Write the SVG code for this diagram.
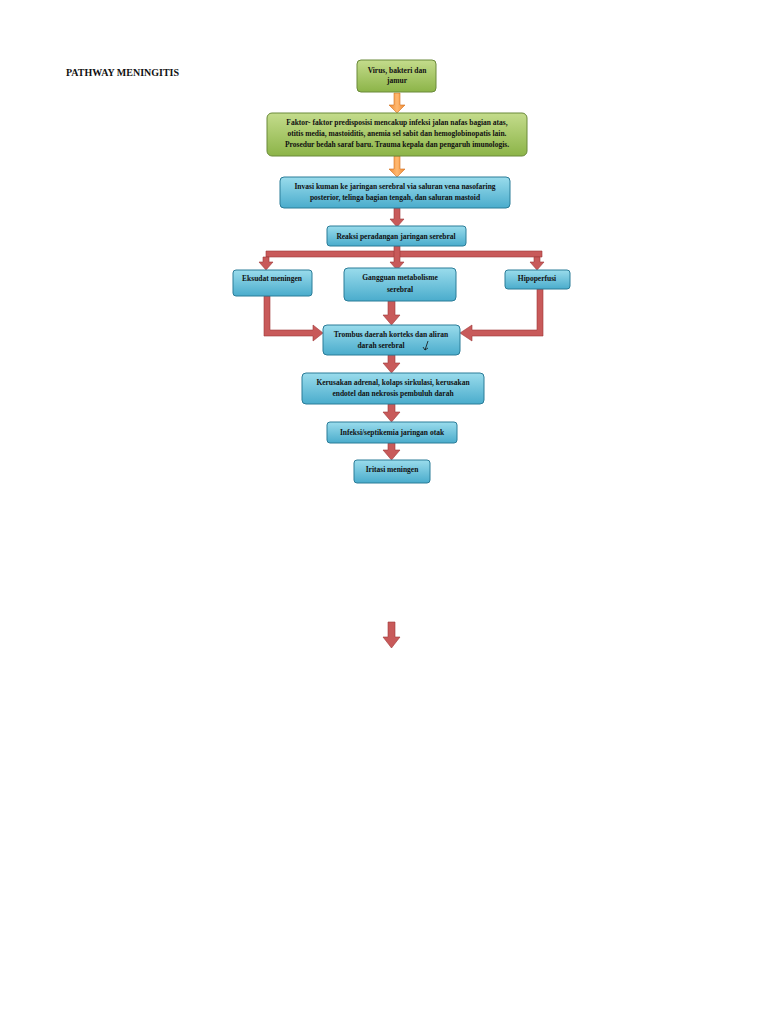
<svg xmlns="http://www.w3.org/2000/svg" width="768" height="1024" viewBox="0 0 768 1024">
<defs>
<linearGradient id="gg" x1="0" y1="0" x2="0" y2="1"><stop offset="0" stop-color="#c4dc8c"/><stop offset="1" stop-color="#8cb448"/></linearGradient>
<linearGradient id="bg" x1="0" y1="0" x2="0" y2="1"><stop offset="0" stop-color="#9adcec"/><stop offset="1" stop-color="#4aaccc"/></linearGradient>
<linearGradient id="rg" x1="0" y1="0" x2="1" y2="0"><stop offset="0" stop-color="#b84040"/><stop offset="0.5" stop-color="#e07070"/><stop offset="1" stop-color="#b84040"/></linearGradient>
<linearGradient id="og" x1="0" y1="0" x2="1" y2="0"><stop offset="0" stop-color="#f08a30"/><stop offset="0.5" stop-color="#ffb870"/><stop offset="1" stop-color="#f08a30"/></linearGradient>
</defs>
<style>
.g{fill:url(#gg);stroke:#6a8a3a;stroke-width:1}
.b{fill:url(#bg);stroke:#2a7c98;stroke-width:1}
.t{font-family:"Liberation Serif",serif;font-size:7.5px;font-weight:bold;fill:#111;text-anchor:middle}
.r{fill:url(#rg);stroke:#a03838;stroke-width:0.6}
.rs{fill:#c85a5a;stroke:#a03838;stroke-width:0.6}
.o{fill:url(#og);stroke:#d07020;stroke-width:0.6}
</style>
<text x="66" y="76" font-family="Liberation Serif,serif" font-size="10" font-weight="bold" fill="#111">PATHWAY MENINGITIS</text>
<g id="connectors">
<path class="o" d="M394,93 h6 v12 h5 l-8,8 l-8,-8 h5z"/>
<path class="o" d="M394,156 h6 v13 h5 l-8,8 l-8,-8 h5z"/>
<path class="rs" d="M394,208 h6 v11 h4 l-7,8 l-7,-8 h4z"/>
<path class="rs" d="M266,251 h276 v6 h-276z"/>
<path class="rs" d="M394,246 h6 v16 h4 l-7,8 l-7,-8 h4z"/>
<path class="rs" d="M263,257 h6 v5 h4 l-7,8 l-7,-8 h4z"/>
<path class="rs" d="M534,257 h6 v5 h4 l-7,8 l-7,-8 h4z"/>
<path class="rs" d="M264,296 h6 v34 h43 v-5 l10,8 l-10,8 v-5 h-49z"/>
<path class="rs" d="M537,289 h6 v47 h-71 v5 l-12,-8 l12,-8 v5 h65z"/>
<path class="rs" d="M388,301 h7 v14 h5 l-8.5,10 l-8.5,-10 h5z"/>
<path class="rs" d="M388,355 h7 v8 h5 l-8.5,10 l-8.5,-10 h5z"/>
<path class="rs" d="M388,404 h7 v8 h5 l-8.5,10 l-8.5,-10 h5z"/>
<path class="rs" d="M388,443 h7 v7 h5 l-8.5,10 l-8.5,-10 h5z"/>
<path class="rs" d="M388,622 h7 v15 h5 l-8.5,11 l-8.5,-11 h5z"/>
</g>
<g id="n1"><rect class="g" x="357" y="60" width="79" height="32" rx="4"/><text class="t" x="397" y="73">Virus, bakteri dan</text><text class="t" x="397" y="83">jamur</text></g>
<g id="n2"><rect class="g" x="267" y="113" width="260" height="43" rx="5"/><text class="t" x="397" y="125">Faktor- faktor predisposisi mencakup infeksi jalan nafas bagian atas,</text><text class="t" x="397" y="136">otitis media, mastoiditis, anemia sel sabit dan hemoglobinopatis lain.</text><text class="t" x="397" y="147">Prosedur bedah saraf baru. Trauma kepala dan pengaruh imunologis.</text></g>
<g id="n3"><rect class="b" x="280" y="177" width="230" height="31" rx="4"/><text class="t" x="395" y="189">Invasi kuman ke jaringan serebral via saluran vena nasofaring</text><text class="t" x="395" y="200">posterior, telinga bagian tengah, dan saluran mastoid</text></g>
<g id="n4"><rect class="b" x="327" y="226" width="139" height="20" rx="3"/><text class="t" x="396" y="239">Reaksi peradangan jaringan serebral</text></g>
<g id="n5"><rect class="b" x="233" y="270" width="79" height="26" rx="3"/><text class="t" x="272" y="281">Eksudat meningen</text></g>
<g id="n6"><rect class="b" x="344" y="268" width="112" height="33" rx="4"/><text class="t" x="400" y="280">Gangguan metabolisme</text><text class="t" x="400" y="292">serebral</text></g>
<g id="n7"><rect class="b" x="505" y="270" width="65" height="19" rx="3"/><text class="t" x="537" y="281">Hipoperfusi</text></g>
<g id="n8"><rect class="b" x="323" y="325" width="137" height="30" rx="4"/><text class="t" x="391" y="337">Trombus daerah korteks dan aliran</text><text class="t" x="381" y="348">darah serebral</text><path d="M428,341 l-3,9 M423,347 l2,3 l3,-2" stroke="#111" stroke-width="0.8" fill="none"/></g>
<g id="n9"><rect class="b" x="302" y="373" width="182" height="31" rx="4"/><text class="t" x="393" y="385">Kerusakan adrenal, kolaps sirkulasi, kerusakan</text><text class="t" x="393" y="396">endotel dan nekrosis pembuluh darah</text></g>
<g id="n10"><rect class="b" x="327" y="422" width="130" height="21" rx="3"/><text class="t" x="392" y="435">Infeksi/septikemia jaringan otak</text></g>
<g id="n11"><rect class="b" x="354" y="460" width="76" height="23" rx="3"/><text class="t" x="392" y="472">Iritasi meningen</text></g>
</svg>
